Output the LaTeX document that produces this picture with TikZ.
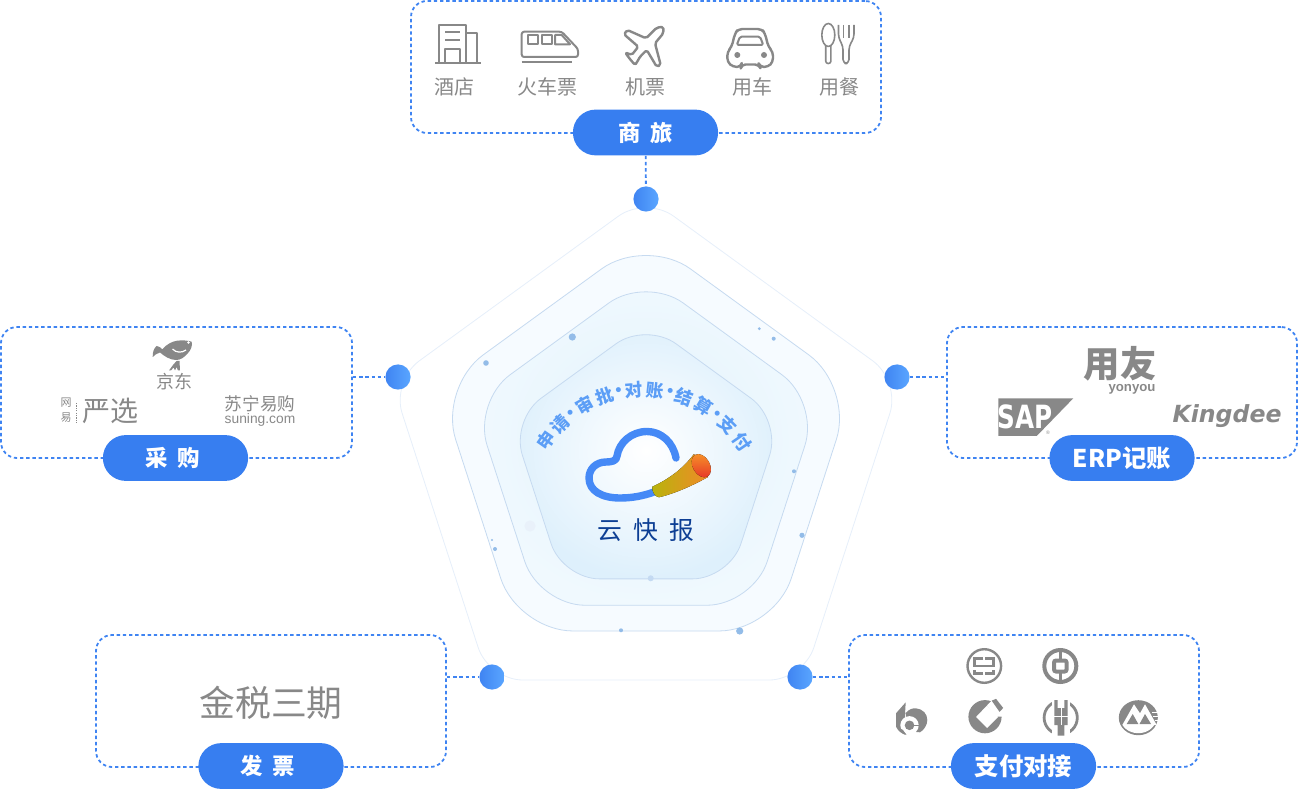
\documentclass[tikz,border=0pt]{standalone}
\usepackage{fontspec}
\setmainfont{Noto Sans CJK SC}
\newfontfamily\latinb{Liberation Sans}
\newfontfamily\heavylat{DejaVu Sans}
\usetikzlibrary{calc}
\definecolor{dashblue}{HTML}{3F84F2}
\definecolor{hublight}{HTML}{5AA6FF}
\definecolor{pillblue}{HTML}{377EF0}
\definecolor{icongray}{HTML}{888888}
\definecolor{dotedge}{HTML}{93BCE8}
\definecolor{pentline}{HTML}{C6DAF0}
\definecolor{pentouter}{HTML}{F6FBFF}
\definecolor{pentmidA}{HTML}{E2F2FC}
\definecolor{pentmidB}{HTML}{F0F9FE}
\definecolor{pentinner}{HTML}{DEF0FC}
\definecolor{pentfaint}{HTML}{E6EFFA}
\newcommand\fs[1]{\fontsize{#1}{#1}\selectfont}
\newcommand\pentpath[3]{[rounded corners=#3pt] (646,#2-#1) -- (646+0.951*#1,#2-0.309*#1) -- (646+0.588*#1,#2+0.809*#1) -- (646-0.588*#1,#2+0.809*#1) -- (646-0.951*#1,#2-0.309*#1) -- cycle}
\tikzset{
 dbox/.style={draw=dashblue,line width=0.9pt,dash pattern=on 1.7pt off 1.4pt,rounded corners=8pt,inner sep=0pt},
 conn/.style={draw=dashblue,line width=0.9pt,dash pattern=on 1.7pt off 1.4pt},
 pill/.style={fill=pillblue,text=white,rounded corners=11.4pt,minimum width=72.6pt,minimum height=22.9pt,inner sep=0pt,font=\fs{11.2}\bfseries},
 hub/.style={circle,minimum size=12.6pt,inner sep=0pt,left color=dashblue,right color=hublight},
 icon/.style={draw=icongray,line width=1pt,line join=round},
 heavy icon/.style={draw=icongray,line width=1.2pt,line join=round},
 thin icon/.style={draw=icongray,line width=0.8pt,line join=round},
 lbl/.style={text=icongray,inner sep=0pt,font=\fs{10}},
 logotext/.style={text=icongray,inner sep=0pt},
 spot/.style={fill=dotedge,draw=none},
}
\begin{document}
\begin{tikzpicture}[x=0.5pt,y=-0.5pt]
\useasboundingbox (0,0) rectangle (1299,790);
% pentagons
\path[draw=pentfaint,line width=0.4pt,fill=white] \pentpath{267.5}{463.6}{17};
\path[draw=pentline,line width=0.4pt,fill=pentouter] \pentpath{218}{454.6}{27.5};
\path[draw=pentline,line width=0.4pt,inner color=pentmidA,outer color=pentmidB] \pentpath{182}{458}{23};
\path[draw=pentline,line width=0.4pt,inner color=white,outer color=pentinner] \pentpath{142}{464}{18.5};
% spots
\fill[spot] (486,363) circle (1.4pt);
\fill[spot] (572.3,337) circle (1.8pt);
\fill[spot] (759.3,328.7) circle (0.8pt);
\fill[spot] (773.7,338.7) circle (1pt);
\fill[spot] (794,471.3) circle (1pt);
\fill[spot] (802,535.3) circle (1.3pt);
\fill[spot] (739.7,631) circle (1.8pt);
\fill[spot] (621,630.3) circle (1pt);
\fill[spot] (495,549) circle (1pt);
\fill[spot] (492,540) circle (0.6pt);
\fill[dotedge!55!white] (650.7,578.3) circle (1.5pt);
\fill[dotedge!20!white] (530,526) circle (2.8pt);
% curved text
\foreach \a/\c in {-55/申,-44.5/请,-37/·,-29.5/审,-19/批,-11.5/·,-4.5/对,5.5/账,13/·,20/结,30.5/算,38/·,45/支,55.5/付}{
 \node[rotate=-\a,inner sep=0pt,text={rgb,255:red,92;green,158;blue,246},font=\fs{8.9}\bfseries] at ({643.5+119*sin(\a)},{509-119*cos(\a)}) {\c};
}
% cloud logo
\draw[line width=3.7pt,line cap=round,line join=round,draw={rgb,255:red,69;green,137;blue,246}] (676,458) .. controls (673,442) and (661,431.5) .. (647,431.5) .. controls (631,431.5) and (619,443) .. (617,456) .. controls (616.5,461) and (612,462) .. (606,462) .. controls (596,462) and (589,469) .. (589,478) .. controls (589,491) and (602,498) .. (620,498) .. controls (632,498) and (643,496) .. (654,492);
\fill[left color={rgb,255:red,184;green,180;blue,12},right color={rgb,255:red,240;green,138;blue,40}] (652.3,486.7) .. controls (667,480) and (682,470) .. (694,454) -- (708,477) .. controls (690,487) and (673,494) .. (659,497.3) .. controls (655,497) and (651.5,491) .. (652.3,486.7) -- cycle;
\fill[shading angle=150,top color={rgb,255:red,245;green,140;blue,40},bottom color={rgb,255:red,232;green,60;blue,40},rotate around={30:(701.3,465.7)}] (701.3,465.7) ellipse [x radius=8.5,y radius=12.5];
\node[inner sep=0pt,text={rgb,255:red,13;green,63;blue,148},font=\fs{12.4}] (brand) at (646,530) {云\hspace{5.6pt}快\hspace{5.6pt}报};
% hubs
\node[hub] (hubtop) at (646,199) {};
\node[hub] (hubleft) at (398,377) {};
\node[hub] (hubright) at (897,377) {};
\node[hub] (hubbl) at (492,677) {};
\node[hub] (hubbr) at (800,677) {};
% boxes
\node[dbox,minimum width=235pt,minimum height=66pt] (boxtop) at (646,67) {};
\node[dbox,minimum width=175.5pt,minimum height=65.5pt] (boxleft) at (176.5,392.5) {};
\node[dbox,minimum width=175pt,minimum height=65.5pt] (boxright) at (1122,392.5) {};
\node[dbox,minimum width=175pt,minimum height=66pt] (boxbl) at (271,701) {};
\node[dbox,minimum width=175pt,minimum height=66pt] (boxbr) at (1024,701) {};
% pills
\node[pill] (pilltop) at (645.5,132.5) {\raisebox{-0.4pt}{商\hspace{5pt}旅}};
\node[pill] (pillleft) at (175.5,458) {\raisebox{-0.5pt}{采\hspace{5pt}购}\kern3pt};
\node[pill,font=\fs{12.2}\bfseries] (pillright) at (1122,458) {ERP记账};
\node[pill] (pillbl) at (271,766) {\raisebox{-0.5pt}{发\hspace{5pt}票}\kern3pt};
\node[pill,font=\fs{12.2}\bfseries] (pillbr) at (1023.5,766) {支付对接};
% connectors
\draw[conn] (pilltop) -- (hubtop);
\draw[conn] (boxleft.east |- hubleft.center) -- (hubleft);
\draw[conn] (hubright) -- (boxright.west |- hubright.center);
\draw[conn] (boxbl.east |- hubbl.center) -- (hubbl);
\draw[conn] (hubbr) -- (boxbr.west |- hubbr.center);
% travel icons
\draw[icon] (435,62.7) -- (481,62.7);
\draw[icon] (439.3,62.7) -- (439.3,25) -- (465.7,25) -- (465.7,62.7);
\draw[icon] (465.7,33.3) -- (477,33.3) -- (477,62.7);
\draw[icon] (445,32.3) -- (460,32.3) (445,40) -- (460,40);
\draw[icon] (445,62.7) -- (445,49) -- (460,49) -- (460,62.7);
\node[lbl] (t1) at (454,87) {酒店};
\draw[icon,rounded corners=1.2pt] (521.7,31.7) -- (561.7,31.7) -- (578,49) -- (578,57) -- (521.7,57) -- cycle;
\draw[icon] (521.7,61.7) -- (572.3,61.7);
\draw[icon] (527.7,35) rectangle (537.7,44.3) (541.7,35) rectangle (551.7,44.3);
\draw[icon] (555,35) -- (561.7,35) -- (570,44.3) -- (555,44.3) -- cycle;
\node[lbl] (t2) at (547,87) {火车票};
\draw[heavy icon,rounded corners=0.9pt] (663.3,26.7) -- (656.7,27.7) -- (646,38.3) -- (627.3,30) -- (624,34.3) -- (638.3,46.7) -- (631.7,55) -- (625,52.3) -- (629.3,58.3) -- (635,65) -- (636.7,62.7) -- (640,56.7) -- (646.7,50) -- (656.7,66.7) -- (660.7,65) -- (655,43.3) -- (663.3,33.3) -- cycle;
\node[lbl] (t3) at (645,87) {机票};
\draw[heavy icon,rounded corners=2pt] (741,67) -- (733,67) -- (727.3,62) -- (727.3,52) -- (731.7,46.7) -- (735,33.3) -- (738.3,29) -- (761.7,29) -- (765,33.3) -- (768.3,46.7) -- (773,52) -- (773,62) -- (768,67) -- (760,67) -- (759,64.5) -- (741.5,64.5) -- cycle;
\draw[icon,rounded corners=0.8pt] (740,36.7) -- (760,36.7) -- (763.3,45) -- (736.7,45) -- cycle;
\fill[icongray] (737.3,55) circle (1.5pt) (764,55) circle (1.5pt);
\node[lbl] (t4) at (752,87) {用车};
\draw[thin icon] (828.3,35) ellipse [x radius=6.5,y radius=11.5];
\draw[thin icon,rounded corners=1.2pt] (825.7,46) -- (825.7,63.5) -- (830.9,63.5) -- (830.9,46);
\draw[thin icon,rounded corners=2pt] (838.5,25) -- (838.5,38) -- (843,46) -- (843,63.5) -- (849,63.5) -- (849,46) -- (854,38) -- (854,25);
\draw[thin icon] (843.5,25) -- (843.5,38) (849,25) -- (849,38);
\node[lbl] (t5) at (839,87) {用餐};
% purchasing logos
\fill[icongray] (152.7,357) .. controls (152.5,352) and (154,348) .. (156.7,346) .. controls (159,346) and (161,348) .. (162.3,349.3) .. controls (167,344) and (172,341.5) .. (177,340.7) .. controls (182,340) and (188,340.5) .. (191.7,341.7) .. controls (192.5,346) and (191,350) .. (188,353) .. controls (184,358) and (180,360) .. (176,360) .. controls (170,360) and (164,356) .. (160,352.5) .. controls (157,353) and (155,355) .. (152.7,357) -- cycle;
\fill[white] (188.5,342.5) circle (0.7pt);
\draw[white,line width=0.6pt] (172.5,349) .. controls (176,353) and (182,353) .. (186,350);
\fill[icongray] (169,370.5) -- (173,365) -- (176.5,361) -- (179.5,361) -- (180,370.5) -- (178,370.5) -- (176.5,367) -- (175,370.5) -- (173.5,367.5) -- (171,370.5) -- cycle;
\node[logotext,font=\fs{9}] (jd) at (174,382) {京东};
\node[logotext,font=\fs{5.5}] (wy1) at (66,403) {网};
\node[logotext,font=\fs{5.5}] (wy2) at (66,418) {易};
\draw[icongray,line width=0.4pt,dash pattern=on 0.6pt off 0.6pt] (wy1.east -| 76,398) -- (76,423);
\node[logotext,font=\fs{14}] (yx) at (110,411) {严选};
\node[logotext,font=\fs{8.8}] (sn) at (260,404) {苏宁易购};
\node[logotext,font=\latinb\fs{6.9}] (sn2) at (260,419.5) {suning.com};
% ERP logos
\node[logotext,font=\fs{18.2}\bfseries] (yy) at (1120,364) {用友};
\node[logotext,font=\latinb\fs{6.6}\bfseries] (yy2) at (1132,389) {yonyou};
\fill[icongray] (998.3,398.3) -- (1073.3,398.3) -- (1036.7,436) -- (998.3,436) -- cycle;
\node[inner sep=0pt,text=white,xscale=0.77,font=\heavylat\fs{16}\bfseries] (sap) at (1025,417) {SAP};
\node[logotext,font=\latinb\fs{2.5}] (sapr) at (1048,433) {®};
\node[logotext,font=\heavylat\fs{11.8}\bfseries\itshape] (kd) at (1227,416) {Kingdee};
% invoice
\node[logotext,font=\fs{17.9}] (jin) at (271,703) {金税三期};
% ICBC
\draw[icongray,line width=1.2pt] (984.3,666) circle (8.4pt);
\draw[icongray,line width=1.4pt] (983.4,658.5) -- (974.8,658.5) -- (974.8,666) -- (993.8,666) -- (993.8,658.5) -- (985.2,658.5);
\draw[icongray,line width=1.4pt] (983.4,673.7) -- (974.8,673.7) -- (974.8,669.5) (985.2,673.7) -- (993.8,673.7) -- (993.8,669.5);
% BOC
\draw[icongray,line width=2pt] (1060.3,666) circle (8pt);
\draw[icongray,line width=1.5pt] (1060.3,650) -- (1060.3,682);
\draw[icongray,line width=2pt,fill=white,rounded corners=1pt] (1054,660.5) rectangle (1066.6,671.5);
% BoCom
\fill[icongray] (905.7,702.3) -- (896,713.3) -- (896,726.7) .. controls (898,731) and (902,734) .. (906,735) -- (907,733) -- (905.7,713) .. controls (909,709) and (913,708) .. (916,708.3) .. controls (923,709) and (927.3,714) .. (927.3,720) .. controls (927.3,725) and (924,730) .. (920,732.3) -- (904,731) -- cycle;
\fill[white] (909.5,725.3) circle (4.6pt);
\fill[icongray] (909.5,725.3) circle (2.4pt);
\draw[icongray,line width=0.8pt] (911,725.3) -- (923,725.3);
\fill[white] (905,734) rectangle (925,737);
\fill[icongray] (899,728) .. controls (900,732) and (903,734) .. (906.5,735) -- (903,730) -- cycle;
% CCB
\fill[icongray] (985,716.7) circle (8.3pt);
\fill[white] (987,705.5) -- (998,717) -- (987,728) -- (976,717) -- cycle;
\fill[white] (987,705.5) -- (995,697) -- (1006,697) -- (1006,716.7) -- (996,716.7) -- cycle;
\fill[icongray] (991.7,700.7) -- (996,698.8) -- (1003.2,708) -- (999.5,711.8) -- cycle;
% ABC
\draw[icongray,line width=1.4pt] (1060.7,717.7) circle (8.3pt);
\fill[white] (1052,697) rectangle (1069.5,738);
\fill[icongray] (1054.3,700) rectangle (1057.7,708) (1064.3,700) rectangle (1067.7,708) (1054.3,708) rectangle (1067.7,725) (1057.7,725) rectangle (1064.3,735.5);
\draw[white,line width=0.35pt] (1061,708) -- (1061,725) (1054.3,716.5) -- (1067.7,716.5);
% CMB
\fill[icongray] (1138.3,717.7) ellipse [x radius=19.5,y radius=17.5];
\fill[white] (1122.3,725) -- (1134,704.3) -- (1140,713.3) -- (1145,704.3) -- (1156.7,725) -- cycle;
\fill[icongray] (1126.7,724) -- (1132.7,714) -- (1138.3,724) -- cycle (1139.5,724) -- (1145,714) -- (1151,724) -- cycle;
\begin{scope}
\clip (1120,725.5) rectangle (1158,737);
\fill[white] (1138.3,717.7) ellipse [x radius=18,y radius=15.5];
\end{scope}
\draw[white,line width=0.4pt] (1152,712) -- (1159,712) (1153,716) -- (1159,716) (1155,720) -- (1159,720);
\end{tikzpicture}
\end{document}
